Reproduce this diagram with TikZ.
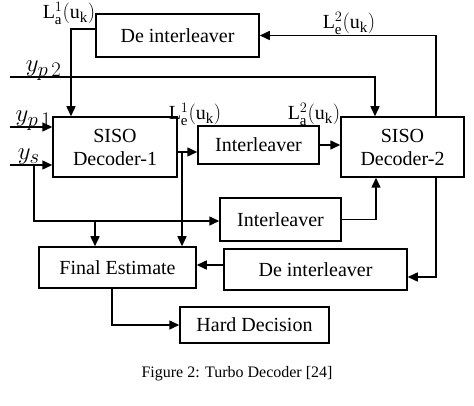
\documentclass[tikz,border=0pt]{standalone}
\usepackage{amsmath}
\usepackage{fontspec}
\setmainfont{Liberation Serif}
\DeclareMathSizes{20}{20}{15}{12}
\DeclareMathSizes{23}{23}{20}{15}
\usepackage{tikz}
\usetikzlibrary{arrows,arrows.meta,positioning}

\begin{document}
\begin{tikzpicture}[x=1pt,y=-1pt,line width=1.5pt,>={Triangle[length=10pt,width=9pt]},
  blk/.style={draw,inner sep=0pt,align=center,font=\fontsize{20}{23}\selectfont},
  lbl/.style={inner sep=0pt,anchor=base west,font=\fontsize{20}{23}\selectfont},
  ylbl/.style={inner sep=0pt,anchor=base west,font=\fontsize{23}{26}\selectfont}]
\useasboundingbox (0,0) rectangle (474,406);

% boxes
\node[blk,minimum width=163pt,minimum height=43pt] (deint1) at (177.5,35.5) {De interleaver};
\node[blk,minimum width=124pt,minimum height=60pt] (siso1) at (115,147) {SISO\\Decoder-1};
\node[blk,minimum width=121pt,minimum height=38pt] (inter1) at (258.5,145) {Interleaver};
\node[blk,minimum width=123pt,minimum height=60pt] (siso2) at (402.5,147) {SISO\\Decoder-2};
\node[blk,minimum width=121pt,minimum height=43pt] (inter2) at (280.5,219.5) {Interleaver};
\node[blk,minimum width=183pt,minimum height=41pt] (deint2) at (315.5,269.5) {De interleaver};
\node[blk,minimum width=157pt,minimum height=41pt] (final) at (117.5,267.5) {Final Estimate};
\node[blk,minimum width=149pt,minimum height=36pt] (hard) at (254.5,325) {Hard Decision};

% inputs
\coordinate (yp2) at (10,77);
\coordinate (yp1) at (10,127);
\coordinate (ys) at (10,165);
\coordinate (ysdown) at (34,221);
\coordinate (fbk) at (71,29);
\node[ylbl] (lyp2) at (25,72) {$y_{p\,2}$};
\node[ylbl] (lyp1) at (15,122) {$y_{p\,1}$};
\node[ylbl] (lys) at (17,160) {$y_{s}$};

% labels
\node[lbl] (la1) at (42,19) {$\mathrm{L}_{\mathrm{a}}^{1}(\mathrm{u}_{\mathrm{k}})$};
\node[lbl] (le1) at (168,120) {$\mathrm{L}_{\mathrm{e}}^{1}(\mathrm{u}_{\mathrm{k}})$};
\node[lbl] (la2) at (287,120) {$\mathrm{L}_{\mathrm{a}}^{2}(\mathrm{u}_{\mathrm{k}})$};
\node[lbl] (le2) at (322,29) {$\mathrm{L}_{\mathrm{e}}^{2}(\mathrm{u}_{\mathrm{k}})$};

% connections
\draw[->] (deint1.west |- fbk) -| (siso1.north -| fbk);
\draw[->] (yp2) -| ([xshift=-27.5pt]siso2.north);
\draw[->] (yp1) -- (yp1 -| siso1.west);
\draw[->] (ys) -- (ys -| siso1.west);
\draw[->] (ys -| ysdown) -- (ysdown) -- (ysdown -| inter2.west);
\draw[->] (ysdown -| final.north) ++(-22.5,0) -- ([xshift=-22.5pt]final.north);
\draw[->] (siso1.east |- 0,152) -- (inter1.west |- 0,152);
\draw[->] (182,152) -- (final.north -| 182,0);
\draw[->] (inter1.east) -- (inter1.east -| siso2.west);
\draw[->] ([xshift=33.5pt]siso2.north) |- (deint1.east);
\draw[->] ([xshift=33.5pt]siso2.south) |- ([yshift=-7.5pt]deint2.east);
\draw[->] (inter2.east) -| ([xshift=-26.5pt]siso2.south);
\draw[->] (deint2.west |- 0,265) -- (final.east |- 0,265);
\draw[->] ([xshift=-5.5pt]final.south) |- (hard.west);

\node[inner sep=0pt,font=\fontsize{16}{19}\selectfont] (cap) at (237,374) {Figure 2: Turbo Decoder [24]};
\end{tikzpicture}
\end{document}
